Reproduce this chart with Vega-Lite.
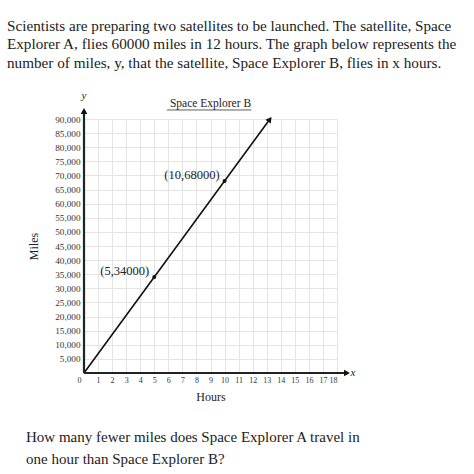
{
  "$schema": "https://vega.github.io/schema/vega-lite/v6.json",
  "padding": {"left": 7, "top": 18, "right": 0, "bottom": 0},
  "background": "white",
  "config": {
    "font": "Liberation Serif",
    "view": {"stroke": null},
    "concat": {"spacing": 28},
    "title": {"color": "#222", "fontWeight": "normal"}
  },
  "title": {
    "text": [
      "Scientists are preparing two satellites to be launched. The satellite, Space",
      "Explorer A, flies 60000 miles in 12 hours. The graph below represents the",
      "number of miles, y, that the satellite, Space Explorer B, flies in x hours."
    ],
    "anchor": "start",
    "fontSize": 15.2,
    "lineHeight": 18.5,
    "dx": -19,
    "offset": 19
  },
  "vconcat": [
    {
      "width": 253,
      "height": 254,
      "title": {"text": "Space Explorer B", "fontSize": 11.5, "offset": -20, "color": "#222"},
      "layer": [
        {
          "data": {"values": [
            {"hours": 0, "miles": 0},
            {"hours": 5, "miles": 34000},
            {"hours": 10, "miles": 68000},
            {"hours": 13.22, "miles": 89900}
          ]},
          "mark": {"type": "line", "color": "#111", "strokeWidth": 1.6, "clip": false},
          "encoding": {
            "x": {"field": "hours", "type": "quantitative",
              "scale": {"domain": [0, 18], "nice": false},
              "axis": {
                "title": "Hours", "titleFontSize": 12, "titleFontWeight": "normal", "titleColor": "#222", "titlePadding": 7,
                "values": [0,1,2,3,4,5,6,7,8,9,10,11,12,13,14,15,16,17,18],
                "tickCount": 30,
                "format": "d",
                "labelOverlap": false,
                "domain": false, "ticks": false, "labelFontSize": 8, "labelColor": "#333", "labelPadding": 3,
                "labelOffset": {"condition": {"test": "datum.value == 0", "value": -7}, "value": 0},
                "grid": true, "gridColor": "#e4e4e4", "gridWidth": 1
              }},
            "y": {"field": "miles", "type": "quantitative",
              "scale": {"domain": [0, 90000], "nice": false},
              "axis": {
                "title": "Miles", "titleFontSize": 12, "titleFontWeight": "normal", "titleColor": "#222", "titlePadding": 14,
                "values": [5000,10000,15000,20000,25000,30000,35000,40000,45000,50000,55000,60000,65000,70000,75000,80000,85000,90000],
                "tickCount": 30,
                "format": ",d",
                "labelOverlap": false,
                "domain": false, "ticks": false, "labelFontSize": 9.2, "labelColor": "#333", "labelPadding": 4,
                "grid": true, "gridColor": "#e4e4e4", "gridWidth": 1
              }}
          }
        },
        {
          "data": {"values": [
            {"hours": 0, "hours2": 18.71, "miles": 0, "miles2": 0},
            {"hours": 0, "hours2": 0, "miles": 0, "miles2": 92840}
          ]},
          "mark": {"type": "rule", "color": "#222", "strokeWidth": 2.2, "clip": false},
          "encoding": {
            "x": {"field": "hours", "type": "quantitative"},
            "x2": {"field": "hours2"},
            "y": {"field": "miles", "type": "quantitative"},
            "y2": {"field": "miles2"}
          }
        },
        {
          "data": {"values": [
            {"hours": 5.9, "hours2": 11.9, "miles": 93200}
          ]},
          "mark": {"type": "rule", "color": "#333", "strokeWidth": 0.8, "clip": false},
          "encoding": {
            "x": {"field": "hours", "type": "quantitative"},
            "x2": {"field": "hours2"},
            "y": {"field": "miles", "type": "quantitative"}
          }
        },
        {
          "data": {"values": [
            {"hours": 18.71, "miles": 0, "angle": 90},
            {"hours": 0, "miles": 92840, "angle": 0},
            {"hours": 13.22, "miles": 89900, "angle": 36.2}
          ]},
          "mark": {"type": "point", "shape": "triangle-up", "filled": true, "color": "#111", "size": 45, "opacity": 1, "clip": false},
          "encoding": {
            "x": {"field": "hours", "type": "quantitative"},
            "y": {"field": "miles", "type": "quantitative"},
            "angle": {"field": "angle", "type": "quantitative", "scale": null}
          }
        },
        {
          "data": {"values": [
            {"hours": 19.14, "miles": 0, "name": "x", "align": "left"},
            {"hours": 0, "miles": 98150, "name": "y", "align": "center"}
          ]},
          "mark": {"type": "text", "fontStyle": "italic", "fontSize": 11, "color": "#222", "baseline": "middle", "clip": false},
          "encoding": {
            "x": {"field": "hours", "type": "quantitative"},
            "y": {"field": "miles", "type": "quantitative"},
            "text": {"field": "name"},
            "align": {"field": "align", "type": "nominal", "scale": null}
          }
        },
        {
          "data": {"values": [
            {"hours": 5, "miles": 34000, "label": "(5,34000)"},
            {"hours": 10, "miles": 68000, "label": "(10,68000)"}
          ]},
          "layer": [
            {
              "mark": {"type": "point", "filled": true, "color": "#111", "size": 16, "opacity": 1},
              "encoding": {
                "x": {"field": "hours", "type": "quantitative"},
                "y": {"field": "miles", "type": "quantitative"}
              }
            },
            {
              "mark": {"type": "text", "align": "right", "baseline": "middle", "dx": -5, "dy": -6.5, "fontSize": 12.5, "color": "#222"},
              "encoding": {
                "x": {"field": "hours", "type": "quantitative"},
                "y": {"field": "miles", "type": "quantitative"},
                "text": {"field": "label"}
              }
            }
          ]
        }
      ]
    },
    {
      "width": 253,
      "height": 1,
      "title": {
        "text": ["How many fewer miles does Space Explorer A travel in", "one hour than Space Explorer B?"],
        "anchor": "start",
        "frame": "group",
        "fontSize": 15,
        "lineHeight": 22,
        "dx": -58,
        "offset": 0,
        "color": "#222"
      },
      "data": {"values": [{}]},
      "mark": {"type": "rect", "opacity": 0},
      "encoding": {}
    }
  ]
}
